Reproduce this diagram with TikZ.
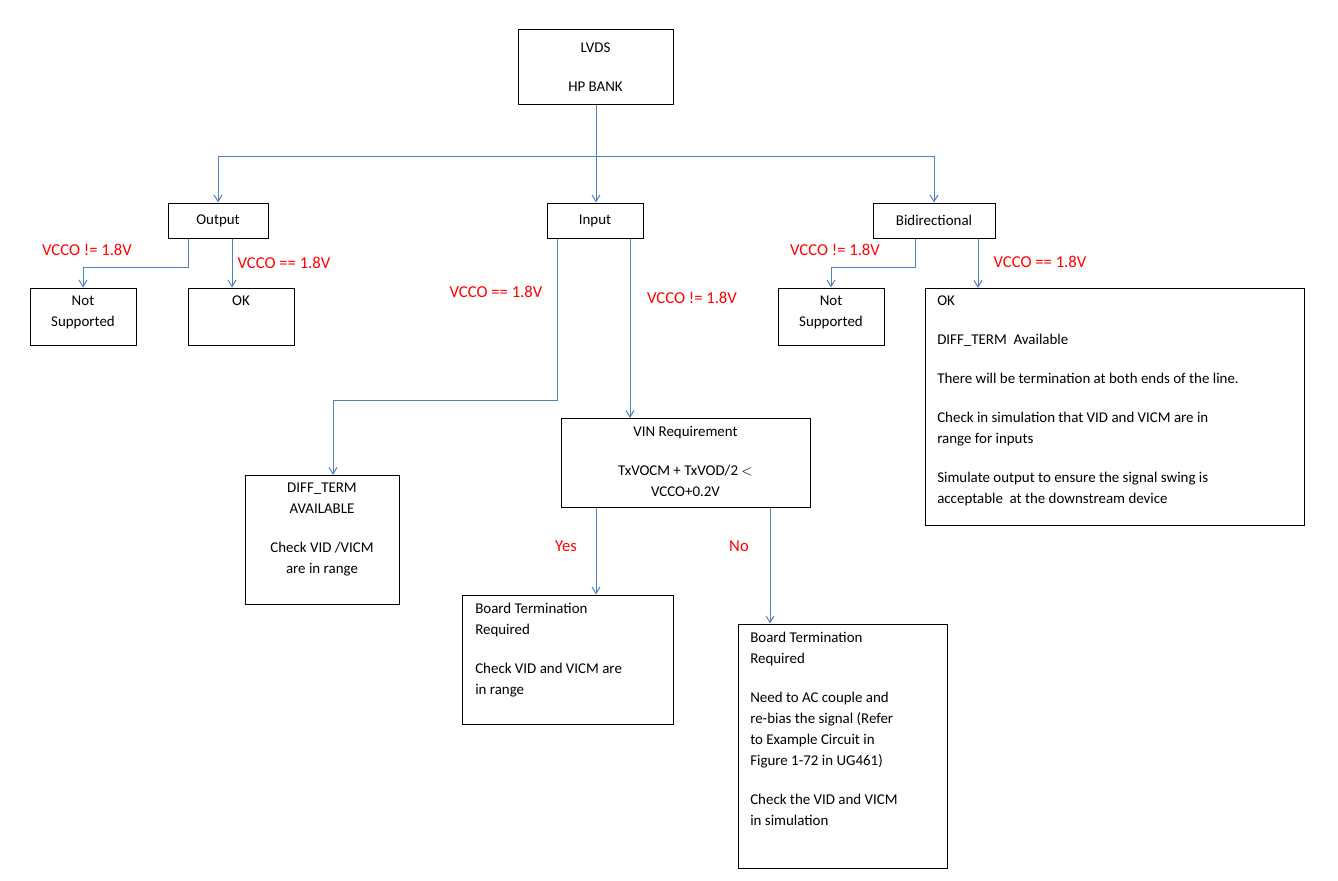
\documentclass[tikz,border=0pt]{standalone}
\usepackage{fontspec}
\setmainfont{Carlito}
\usetikzlibrary{arrows.meta}
\definecolor{linkblue}{HTML}{4F81BD}
\definecolor{labred}{HTML}{FF0000}
\tikzset{
  box/.style={draw, line width=0.75pt, inner sep=0pt},
  txt/.style={anchor=north west, align=left, inner sep=0pt, font=\fontsize{11.2}{15.7}\selectfont},
  ctxt/.style={align=center, inner sep=0pt, font=\fontsize{11.2}{15.7}\selectfont},
  link/.style={draw=linkblue, line width=0.75pt, -{Straight Barb[length=5pt,width=6pt]}},
  cond/.style={text=labred, inner sep=0pt, font=\fontsize{12.5}{15}\selectfont}
}
\newcommand{\gap}{\\[13.5pt]}
\begin{document}
\begin{tikzpicture}[x=0.75pt,y=-0.75pt]
  \useasboundingbox (0,0) rectangle (1338,881);
  % boxes
  \node[box, minimum width=155*0.75pt, minimum height=74*0.75pt] (lvds) at (595.5,67) {};
  \node[ctxt] (lvdst) at (595.5,67) {LVDS\gap HP BANK};
  \node[box, ctxt, minimum width=100*0.75pt, minimum height=35*0.75pt] (out) at (218,220.5) {Output};
  \node[box, ctxt, minimum width=96*0.75pt, minimum height=35*0.75pt] (in) at (595,220.5) {Input};
  \node[box, ctxt, minimum width=122*0.75pt, minimum height=35*0.75pt] (bid) at (934,220.5) {Bidirectional};
  \node[box, minimum width=106*0.75pt, minimum height=57*0.75pt] (nsl) at (83,316.5) {};
  \node[ctxt, anchor=north] (nslt) at (83,296) {Not\\Supported};
  \node[box, minimum width=106*0.75pt, minimum height=57*0.75pt] (okl) at (241,316.5) {};
  \node[ctxt, anchor=north] (oklt) at (241,296) {OK};
  \node[box, minimum width=106*0.75pt, minimum height=57*0.75pt] (nsr) at (831,316.5) {};
  \node[ctxt, anchor=north] (nsrt) at (831,296) {Not\\Supported};
  \node[box, minimum width=379*0.75pt, minimum height=237*0.75pt] (okr) at (1114.5,406.5) {};
  \node[txt] (okrt) at (937,296) {OK\gap DIFF\_TERM\ \ Available\gap There will be termination at both ends of the line.\gap
    Check in simulation that VID and VICM are in\\range for inputs\gap Simulate output to ensure the signal swing is\\acceptable\ \ at the downstream device};
  \node[box, minimum width=154*0.75pt, minimum height=129*0.75pt] (dt) at (322,539.5) {};
  \node[ctxt, anchor=north] (dtt) at (322,483) {DIFF\_TERM\\AVAILABLE\gap Check VID /VICM\\are in range};
  \node[box, minimum width=249*0.75pt, minimum height=89*0.75pt] (vin) at (685.5,462.5) {};
  \node[ctxt, anchor=north] (vint) at (685.5,426) {VIN Requirement\gap TxVOCM + TxVOD/2 $<$\\VCCO+0.2V};
  \node[box, minimum width=211*0.75pt, minimum height=129*0.75pt] (bty) at (567.5,659.5) {};
  \node[txt] (btyt) at (475,603) {Board Termination\\Required\gap Check VID and VICM are\\in range};
  \node[box, minimum width=209*0.75pt, minimum height=244*0.75pt] (btn) at (842.5,746) {};
  \node[txt] (btnt) at (750,632) {Board Termination\\Required\gap Need to AC couple and\\re-bias the signal (Refer\\to Example Circuit in\\Figure 1-72 in UG461)\gap Check the VID and VICM\\in simulation};
  % junctions
  \coordinate (top) at (596,156);
  \coordinate (outa) at (188,267);
  \coordinate (ina) at (557,400);
  \coordinate (bida) at (915,267);
  % connectors
  \draw[link] (lvds.south -| top) -- (in.north -| top);
  \draw[link] (top) -| (out.north);
  \draw[link] (top) -| (bid.north);
  \draw[link] (out.south -| outa) -- (outa) -| (nsl.north);
  \draw[link] (out.south -| okl.north) ++(-9,0) coordinate (outb) -- (outb |- okl.north);
  \draw[link] (in.south -| ina) -- (ina) -| (333,475);
  \draw[link] (in.south -| 630,0) -- (630,418);
  \draw[link] (bid.south -| bida) -- (bida) -| (nsr.north);
  \draw[link] (bid.south -| 978,0) -- (978,288);
  \draw[link] (vin.south -| 596,0) -- (bty.north -| 596,0);
  \draw[link] (vin.south -| 770,0) -- (btn.north -| 770,0);
  % conditions
  \node[cond] (c1) at (87,250) {VCCO != 1.8V};
  \node[cond] (c2) at (284,263) {VCCO == 1.8V};
  \node[cond] (c3) at (496,292) {VCCO == 1.8V};
  \node[cond] (c4) at (692,298) {VCCO != 1.8V};
  \node[cond] (c5) at (835,250) {VCCO != 1.8V};
  \node[cond] (c6) at (1040,262) {VCCO == 1.8V};
  \node[cond] (c7) at (566,546) {Yes};
  \node[cond] (c8) at (739,546) {No};
\end{tikzpicture}
\end{document}
